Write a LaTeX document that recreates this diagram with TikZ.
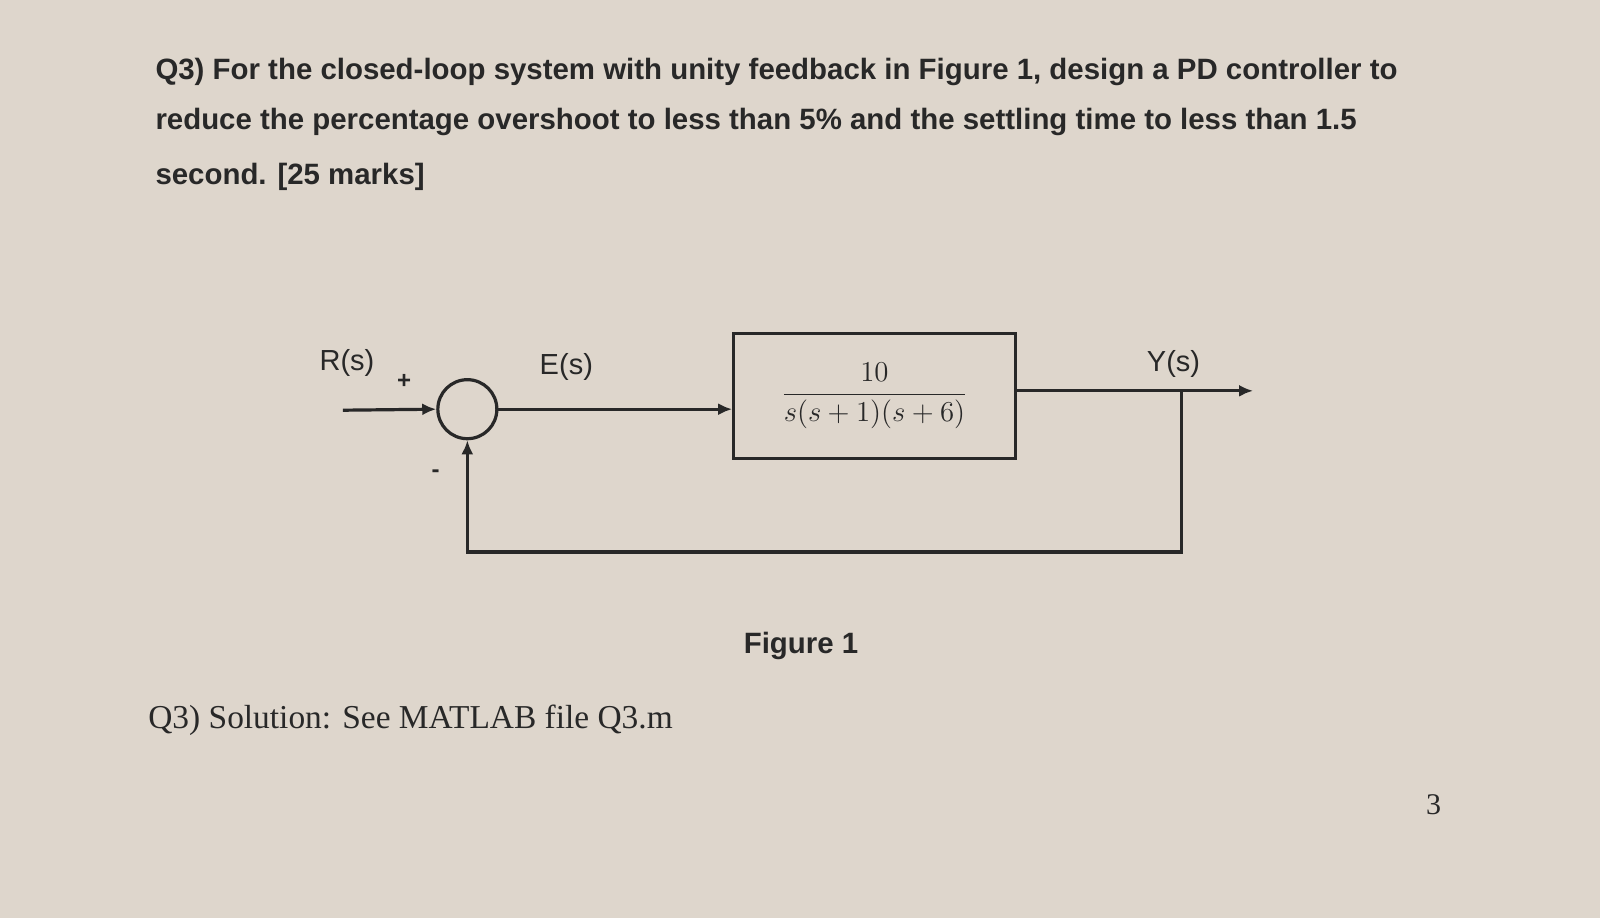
\documentclass[tikz,border=0pt]{standalone}
\usepackage{amsmath}
\usepackage{fontspec}
\setmainfont{Liberation Serif}
\setsansfont{Liberation Sans}
\usetikzlibrary{arrows.meta}
\definecolor{paper}{RGB}{222,214,204}
\definecolor{ink}{RGB}{40,40,40}
\tikzset{
  wire/.style={draw=ink,line width=1.6pt},
  arr/.style={wire,-{Latex[length=7pt,width=6pt]}},
  lbl/.style={font=\sffamily\fontsize{14.5}{16}\selectfont,text=ink},
  title/.style={font=\sffamily\bfseries\fontsize{14.7}{17}\selectfont,text=ink,anchor=west,inner sep=0},
}
\begin{document}
\begin{tikzpicture}[x=0.51pt,y=-0.51pt]
\fill[paper] (0,0) rectangle (1568,900);
\useasboundingbox (0,0) rectangle (1568,900);
\node[title] (t1) at (152,71) {Q3) For the closed-loop system with unity feedback in Figure 1, design a PD controller to};
\node[title] (t2) at (152,120) {reduce the percentage overshoot to less than 5\% and the settling time to less than 1.5};
\node[title] (t3) at (152,173) {second. [25 marks]};
\node[circle,draw=ink,line width=1.6pt,minimum size=29.5pt,inner sep=0] (sum) at (458,401) {};
\coordinate (in) at (336,402);
\node[draw=ink,line width=1.6pt,minimum width=140.7pt,minimum height=62.7pt,inner sep=0] (plant) at (857,388) {};
\node[text=ink,font=\fontsize{14}{16}\selectfont] (frac) at (857,388) {$\dfrac{10}{s(s+1)(s+6)}$};
\coordinate (out) at (1228,383);
\coordinate (tap) at (1158,384);
\coordinate (c1) at (1158,541);
\coordinate (c2) at (458,541);
\draw[arr] (in) -- (sum.west);
\draw[arr] (sum.east) -- (plant.west |- sum.east);
\draw[arr] (plant.east |- out) -- (out);
\draw[arr] (tap) -- (c1) -- (c2) -- (sum.south);
\node[lbl] (r) at (340,356) {R(s)};
\node[lbl,font=\sffamily\bfseries\fontsize{12}{14}\selectfont] (plus) at (396,374) {+};
\node[lbl,font=\sffamily\bfseries\fontsize{12}{14}\selectfont] (minus) at (427,464) {-};
\node[lbl] (e) at (555,360) {E(s)};
\node[lbl] (y) at (1150,357) {Y(s)};
\node[title,anchor=center] (fig) at (785,633) {Figure 1};
\node[text=ink,font=\fontsize{16.7}{18}\selectfont,anchor=west,inner sep=0] (sol) at (145,706) {Q3) Solution: See MATLAB file Q3.m};
\node[text=ink,font=\fontsize{15}{17}\selectfont] (pg) at (1405,789) {3};
\end{tikzpicture}
\end{document}
